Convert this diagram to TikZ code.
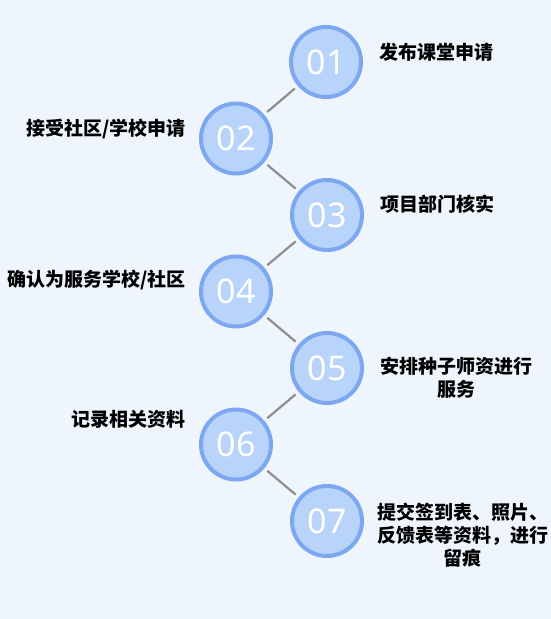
\documentclass[tikz,border=0pt]{standalone}
\usepackage{fontspec}
\usepackage{xcolor}
\usetikzlibrary{positioning}
\newfontfamily\cjk{Noto Sans CJK SC}
\newfontfamily\numfont{Noto Sans}
\definecolor{bgblue}{HTML}{EEF5FD}
\definecolor{dotfill}{HTML}{B8D4FA}
\definecolor{dotline}{HTML}{7DA8F1}
\definecolor{linkgray}{HTML}{8E8E8E}

\begin{document}
\begin{tikzpicture}[
  x=1pt, y=1pt,
  node distance=14pt and 16pt,
  num/.style={circle, draw=dotline, fill=dotfill, line width=4pt, minimum size=70pt, inner sep=0pt, text=white, font=\numfont\fontsize{34}{34}\selectfont},
  lbl/.style={align=center, inner sep=0pt, font=\cjk\bfseries\fontsize{19}{23}\selectfont},
  link/.style={draw=linkgray, line width=2.2pt, shorten <=4pt, shorten >=4pt}
]
\fill[bgblue] (0,0) rectangle (551,619);
\useasboundingbox (0,0) rectangle (551,619);

% steps, zig-zag down the page
\node[num] (s1) at (326,557) {01};
\node[num] (s2) at (236,480.5) {02};
\node[num] (s3) at (327,404) {03};
\node[num] (s4) at (236,327.5) {04};
\node[num] (s5) at (327,251) {05};
\node[num] (s6) at (236,174.5) {06};
\node[num] (s7) at (327,98) {07};

\draw[link] (s1) -- (s2);
\draw[link] (s2) -- (s3);
\draw[link] (s3) -- (s4);
\draw[link] (s4) -- (s5);
\draw[link] (s5) -- (s6);
\draw[link] (s6) -- (s7);

% labels
\node[lbl, right=of s1, yshift=10pt] (t1) {发布课堂申请};
\node[lbl, left=13pt of s2, yshift=10pt] (t2) {接受社区/学校申请};
\node[lbl, right=of s3, yshift=11pt] (t3) {项目部门核实};
\node[lbl, left=13pt of s4, yshift=12pt] (t4) {确认为服务学校/社区};
\node[lbl, right=of s5, yshift=-10pt] (t5) {安排种子师资进行\\服务};
\node[lbl, left=13pt of s6, yshift=25pt] (t6) {记录相关资料};
\node[lbl, right=of s7, xshift=-3pt, yshift=-14pt] (t7) {提交签到表、照片、\\反馈表等资料，进行\\留痕};
\end{tikzpicture}
\end{document}
